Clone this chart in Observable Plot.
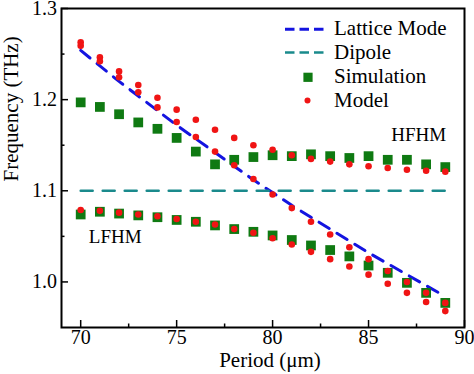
<!DOCTYPE html>
<html><head><meta charset="utf-8">
<script src="https://cdn.jsdelivr.net/npm/d3@7"></script>
<script src="https://cdn.jsdelivr.net/npm/@observablehq/plot@0.6"></script>
<style>body{margin:0;background:#fff} svg text{font-family:'Liberation Serif','Times New Roman',serif;}</style>
</head><body><div id="chart"></div>
<script>
// ---- data ----
const periods = [70,71,72,73,74,75,76,77,78,79,80,81,82,83,84,85,86,87,88,89];
const simUpper = [1.197,1.192,1.184,1.175,1.168,1.158,1.143,1.129,1.134,1.137,1.139,1.138,1.140,1.138,1.136,1.138,1.134,1.134,1.129,1.126];
const simLower = [1.074,1.077,1.075,1.073,1.071,1.068,1.066,1.062,1.058,1.055,1.051,1.046,1.040,1.035,1.028,1.018,1.010,0.999,0.988,0.977];
const modelA = [1.263,1.2465,1.231,1.216,1.202,1.189,1.178,1.167,1.158,1.150,1.145,1.139,1.135,1.132,1.129,1.127,1.125,1.123,1.122,1.121];
const modelB = [1.259,1.242,1.2245,1.208,1.1915,1.1755,1.159,1.143,1.128,1.113,1.096,1.081,1.066,1.052,1.038,1.025,1.012,1.000,0.988,0.977];
const modelC = [1.079,1.078,1.076,1.074,1.072,1.069,1.066,1.063,1.058,1.054,1.048,1.041,1.033,1.025,1.017,1.008,0.998,0.988,0.978,0.968];
const latticeFreq = [1.254,1.237,1.220,1.204,1.188,1.172,1.157,1.142,1.127,1.112,1.098,1.084,1.071,1.058,1.045,1.032,1.020,1.008,0.996,0.984];
const dipolePeriods = [70, 89];
const dipoleFreq = [1.1, 1.1];
const xTickLabels = [70, 75, 80, 85, 90];
const xMinorTicks = [72.5, 77.5, 82.5, 87.5];
const yTickLabels = [1.0, 1.1, 1.2, 1.3];
const yMinorTicks = [1.05, 1.15, 1.25];
const legendLabels = ["Lattice Mode", "Dipole", "Simulation", "Model"];
const xTitle = "Period (\u03bcm)";
const yTitle = "Frequency (THz)";
const annotations = ["HFHM", "LFHM"];

// ---- tables ----
const simulation = periods.flatMap((p, i) => [{period: p, freq: simUpper[i]}, {period: p, freq: simLower[i]}]);
const model = periods.flatMap((p, i) => [{period: p, freq: modelA[i]}, {period: p, freq: modelB[i]}, {period: p, freq: modelC[i]}]);
const lattice = periods.map((p, i) => ({period: p, freq: latticeFreq[i]}));
const dipole = dipolePeriods.map((p, i) => ({period: p, freq: dipoleFreq[i]}));

const font = "'Liberation Serif', 'Times New Roman', serif";
const BLUE = "#1414e0", TEAL = "#1a8a8c", GREEN = "#0f7a12", RED = "#f01414";

function legend() {
  const g = d3.create("svg:g").attr("font-size", 21).attr("fill", "black").attr("text-anchor", "start");
  const base = [35.3, 58.9, 82.6, 106.6];
  const mid = [29.3, 52.5, 77.3, 100.5];
  g.append("line").attr("x1", 285).attr("x2", 323.5).attr("y1", mid[0]).attr("y2", mid[0])
    .attr("stroke", BLUE).attr("stroke-width", 3).attr("stroke-dasharray", "9.5,5");
  g.append("line").attr("x1", 285).attr("x2", 323.5).attr("y1", mid[1]).attr("y2", mid[1])
    .attr("stroke", TEAL).attr("stroke-width", 2.5).attr("stroke-dasharray", "9.5,5");
  g.append("rect").attr("x", 308 - 4.6).attr("y", mid[2] - 4.6).attr("width", 9.2).attr("height", 9.2).attr("fill", GREEN);
  g.append("circle").attr("cx", 307.5).attr("cy", mid[3]).attr("r", 3).attr("fill", RED);
  legendLabels.forEach((t, i) => {
    g.append("text").attr("x", 334).attr("y", base[i]).attr("text-anchor", "start").text(t);
  });
  return g.node();
}

const chart = Plot.plot({
  width: 474, height: 374,
  marginLeft: 61, marginRight: 10, marginTop: 8, marginBottom: 47,
  style: {fontFamily: font, fontSize: "20px", background: "white", color: "black"},
  x: {domain: [69, 90], ticks: xTickLabels, tickSize: 0, tickPadding: 2, label: null},
  y: {domain: [0.95, 1.3], ticks: yTickLabels, tickSize: 0, tickPadding: 4.5, tickFormat: d3.format(".1f"), label: null},
  marks: [
    Plot.line(lattice, {x: "period", y: "freq", stroke: BLUE, strokeWidth: 3, strokeDasharray: "12,9"}),
    Plot.line(dipole, {x: "period", y: "freq", stroke: TEAL, strokeWidth: 2.5, strokeDasharray: "12,10"}),
    Plot.dot(simulation, {x: "period", y: "freq", symbol: "square", r: 5.5, fill: GREEN}),
    Plot.dot(model, {x: "period", y: "freq", r: 3.3, fill: RED}),
    Plot.tickX(xTickLabels, {x: d => d, insetTop: 312, stroke: "black", strokeWidth: 1.5}),
    Plot.tickX(xMinorTicks, {x: d => d, insetTop: 315.5, stroke: "black", strokeWidth: 1.5}),
    Plot.tickY(yTickLabels, {y: d => d, insetRight: 396, stroke: "black", strokeWidth: 1.5}),
    Plot.tickY(yMinorTicks, {y: d => d, insetRight: 399.5, stroke: "black", strokeWidth: 1.5}),
    Plot.frame({stroke: "black", strokeWidth: 2}),
    Plot.text([xTitle], {text: d => d, frameAnchor: "bottom", lineAnchor: "middle", dx: 7, dy: 32.3, fontSize: 21, fill: "black"}),
    Plot.text([yTitle], {text: d => d, frameAnchor: "left", lineAnchor: "middle", rotate: -90, dx: -50.5, dy: 13.5, fontSize: 21, fill: "black"}),
    Plot.text([annotations[0]], {text: d => d, frameAnchor: "top-left", textAnchor: "start", lineAnchor: "top", dx: 329.7, dy: 118.5, fontSize: 19, fill: "black"}),
    Plot.text([annotations[1]], {text: d => d, frameAnchor: "top-left", textAnchor: "start", lineAnchor: "top", dx: 27.3, dy: 220.8, fontSize: 19, fill: "black"}),
    legend
  ]
});
document.getElementById("chart").appendChild(chart);
</script>
</body></html>
